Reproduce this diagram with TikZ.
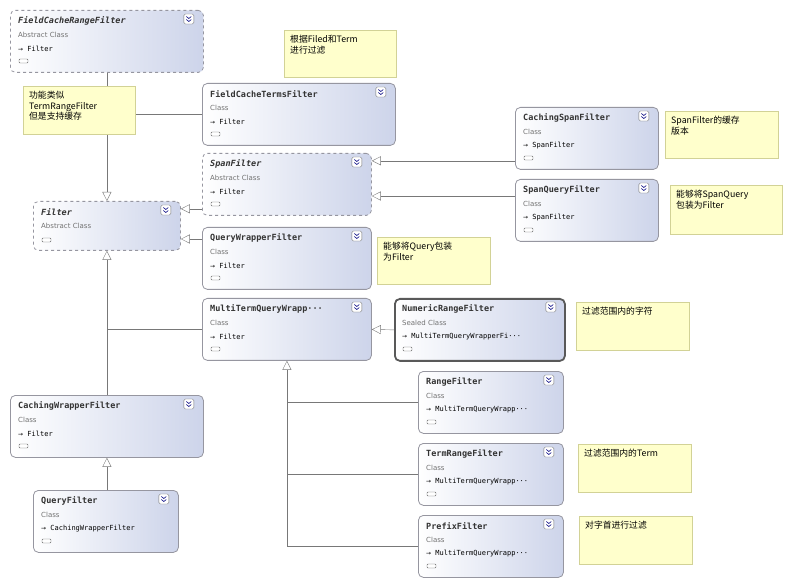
\documentclass[tikz,border=0pt]{standalone}
\usepackage{fontspec}
\setmainfont{DejaVu Sans}
\newfontfamily\monof{DejaVu Sans Mono}
\newfontfamily\cjk{Noto Sans CJK SC}
\usetikzlibrary{arrows.meta,calc}
\definecolor{boxr}{RGB}{205,212,234}
\definecolor{boxb}{RGB}{150,150,160}
\definecolor{notef}{RGB}{255,255,204}
\definecolor{noteb}{RGB}{210,210,150}
\definecolor{lnc}{RGB}{120,120,120}
\tikzset{
 classbox/.style={draw=boxb,rounded corners=5pt,left color=white,right color=boxr,line width=0.8pt},
 abs/.style={dashed},
 sealed/.style={draw=black!65,line width=1.8pt},
 titlef/.style={font=\monof\bfseries\fontsize{8.5}{10}\selectfont,text=black!80},
 kindf/.style={font=\fontsize{7}{8}\selectfont,text=black!55},
 basef/.style={font=\monof\fontsize{7}{8}\selectfont},
 note/.style={draw=noteb,fill=notef,anchor=north west,inner sep=0pt},
 notet/.style={font=\cjk\fontsize{8.8}{10.5}\selectfont,anchor=north west,align=left,inner sep=0pt},
 inh/.style={draw=lnc,-{Triangle[open,length=9pt,width=9pt,fill=white]}},
 ln/.style={draw=lnc},
}
\newcommand\cbox[9][]{%
 \node[classbox,#1,anchor=north west,minimum width={(#5-#3)*1pt},minimum height={(#6-#4)*1pt},inner sep=0pt] (#2) at (#3,#4) {};
 \node[titlef,anchor=west,inner sep=0pt] at ([xshift=8pt,yshift=-11pt]#2.north west) {#7};
 \node[kindf,anchor=west,inner sep=0pt] at ([xshift=8pt,yshift=-25pt]#2.north west) {#8};
 \if\relax\detokenize{#9}\relax
 \draw[black!60,fill=white,rounded corners=1pt] ([xshift=9pt,yshift=-37pt]#2.north west) rectangle ++(9pt,-4pt);
 \else
 \node[basef,anchor=west,inner sep=0pt] at ([xshift=8pt,yshift=-39pt]#2.north west) {{\fontspec{DejaVu Sans}\fontsize{6}{7}\selectfont→} #9};
 \draw[black!60,fill=white,rounded corners=1pt] ([xshift=9pt,yshift=-49pt]#2.north west) rectangle ++(9pt,-4pt);
 \fi
 \draw[fill=white,draw=black!55,rounded corners=1.5pt] ([xshift=-20pt,yshift=-4pt]#2.north east) rectangle ++(10pt,-10pt);
 \draw[blue!50!black,line width=0.6pt] ([xshift=-17.5pt,yshift=-6.5pt]#2.north east) -- ++(2.5pt,-2pt) -- ++(2.5pt,2pt)
   ([xshift=-17.5pt,yshift=-9.5pt]#2.north east) -- ++(2.5pt,-2pt) -- ++(2.5pt,2pt);
}
\newcommand\notebox[6]{%
 \node[note,minimum width={(#4-#2)*1pt},minimum height={(#5-#3)*1pt}] (#1) at (#2,#3) {};
 \node[notet] at ([xshift=6pt,yshift=-5pt]#1.north west) {#6};
}
\begin{document}
\begin{tikzpicture}[x=1pt,y=-1pt]
\useasboundingbox[fill=white] (0,0) rectangle (790,585);
\cbox[abs]{fcr}{10}{10}{203}{72}{\itshape FieldCacheRangeFilter}{Abstract Class}{Filter}
\cbox{fct}{202}{83}{395}{145}{FieldCacheTermsFilter}{Class}{Filter}
\cbox[abs]{span}{202}{153}{371}{215}{\itshape SpanFilter}{Abstract Class}{Filter}
\cbox{csf}{515}{107}{658}{169}{CachingSpanFilter}{Class}{SpanFilter}
\cbox{sqf}{515}{179}{658}{241}{SpanQueryFilter}{Class}{SpanFilter}
\cbox[abs]{filter}{33}{201}{180}{250}{\itshape Filter}{Abstract Class}{}
\cbox{qwf}{202}{227}{371}{289}{QueryWrapperFilter}{Class}{Filter}
\cbox{mtq}{202}{298}{371}{360}{MultiTermQueryWrapp···}{Class}{Filter}
\cbox[sealed]{nrf}{394}{298}{564}{360}{NumericRangeFilter}{Sealed Class}{MultiTermQueryWrapperFi···}
\cbox{rf}{418}{371}{563}{433}{RangeFilter}{Class}{MultiTermQueryWrapp···}
\cbox{trf}{418}{443}{563}{505}{TermRangeFilter}{Class}{MultiTermQueryWrapp···}
\cbox{pf}{418}{515}{563}{577}{PrefixFilter}{Class}{MultiTermQueryWrapp···}
\cbox{cwf}{10}{395}{203}{457}{CachingWrapperFilter}{Class}{Filter}
\cbox{qf}{33}{490}{178}{552}{QueryFilter}{Class}{CachingWrapperFilter}
% inheritance
\draw[inh] (fcr.south) -- (fcr.south |- filter.north);
\draw[ln] (fct.west) -- (fct.west -| fcr.south);
\draw[inh] ([yshift=7pt]span.south west) -- ([yshift=7pt]span.south west -| filter.east);
\draw[inh] ([yshift=-12pt]qwf.north west) -- ([yshift=-12pt]qwf.north west -| filter.east);
\draw[inh] ([yshift=9pt]csf.south west) -- ([yshift=9pt]csf.south west -| span.east);
\draw[inh] ([yshift=-17pt]sqf.north west) -- ([yshift=-17pt]sqf.north west -| span.east);
\draw[inh] (mtq.west) -| (fcr.south |- filter.south);
\draw[ln] (cwf.north -| fcr.south) -- (fcr.south |- mtq.west);
\draw[inh] (qf.north -| fcr.south) -- (fcr.south |- cwf.south);
\draw[inh] (nrf.west) -- (mtq.east);
\draw[inh] (pf.west) -| (mtq.south);
\draw[ln] (rf.west) -- (rf.west -| mtq.south);
\draw[ln] (trf.west) -- (trf.west -| mtq.south);
% notes
\notebox{n1}{284}{30}{396}{77}{根据Filed和Term\\进行过滤}
\notebox{n2}{23}{86}{135}{134}{功能类似\\TermRangeFilter\\但是支持缓存}
\notebox{n3}{665}{111}{778}{158}{SpanFilter的缓存\\版本}
\notebox{n4}{670}{185}{782}{234}{能够将SpanQuery\\包装为Filter}
\notebox{n5}{377}{237}{490}{284}{能够将Query包装\\为Filter}
\notebox{n6}{576}{302}{689}{350}{过滤范围内的字符}
\notebox{n7}{578}{444}{691}{492}{过滤范围内的Term}
\notebox{n8}{579}{516}{692}{564}{对字首进行过滤}
\end{tikzpicture}
\end{document}
